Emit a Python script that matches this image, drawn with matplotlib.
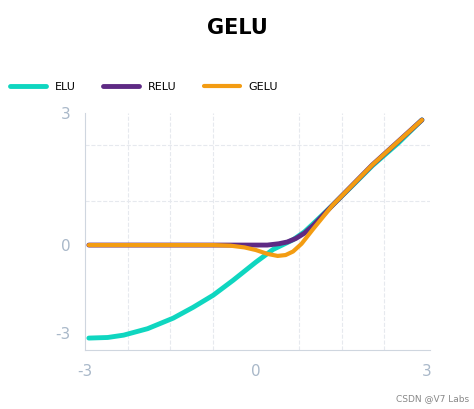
import numpy as np
import matplotlib.pyplot as plt

plt.rcParams['axes.unicode_minus'] = False

# values
elu_x = [-2.93, -2.6, -2.32, -1.9, -1.45, -1.1, -0.75, -0.4, 0.0, 0.3, 0.65, 0.85, 1.0, 1.34, 1.7, 2.04, 2.5, 2.91]
elu_y = [-3.17, -3.15, -3.07, -2.85, -2.49, -2.12, -1.71, -1.2, -0.58, -0.15, 0.12, 0.3, 0.48, 0.9, 1.36, 1.8, 2.32, 2.84]
relu_x = [-2.93, -0.4, 0.2, 0.4, 0.55, 0.7, 0.85, 1.0, 1.34, 2.04, 2.91]
relu_y = [0, 0, 0.0, 0.03, 0.07, 0.15, 0.27, 0.44, 0.9, 1.82, 2.84]
gelu_x = [-2.93, -0.75, -0.45, -0.2, 0.0, 0.2, 0.38, 0.52, 0.65, 0.8, 1.0, 1.34, 2.04, 2.91]
gelu_y = [0, 0, -0.02, -0.08, -0.17, -0.3, -0.37, -0.34, -0.22, 0.03, 0.36, 0.9, 1.82, 2.84]

POS, NEG = 44.0, 29.3

def fwd(y):
    y = np.asarray(y, dtype=float)
    return np.where(y > 0, y * POS, y * NEG)

def inv(v):
    v = np.asarray(v, dtype=float)
    return np.where(v > 0, v / POS, v / NEG)

fig = plt.figure(figsize=(4.74, 4.09), dpi=100)
ax = fig.add_axes([0.179, 0.144, 0.728, 0.58])
ax.set_yscale('function', functions=(fwd, inv))

ax.plot(elu_x, elu_y, color='#0fd6c0', lw=3.5, label='ELU', solid_capstyle='round', solid_joinstyle='round', zorder=3)
ax.plot(relu_x, relu_y, color='#5e2a84', lw=3.5, label='RELU', solid_capstyle='round', solid_joinstyle='round', zorder=4)
ax.plot(gelu_x, gelu_y, color='#f39c12', lw=3.0, label='GELU', solid_capstyle='round', solid_joinstyle='round', zorder=5)

ax.set_xlim(-3, 3.05)
ax.set_ylim(-3.58, 3.0)
ax.set_xticks([-3, 0, 3])
ax.set_yticks([-3, 0, 3])
for gx in [-2.25, -1.5, -0.75, 0.75, 1.5, 2.25]:
    ax.axvline(gx, color='#e6e9ee', ls='--', lw=0.8, zorder=0)
for gy in [2.27, 1.0]:
    ax.axhline(gy, color='#e6e9ee', ls='--', lw=0.8, zorder=0)

for s in ['top', 'right']:
    ax.spines[s].set_visible(False)
for s in ['left', 'bottom']:
    ax.spines[s].set_color('#cfd6df')
ax.tick_params(length=0, labelsize=11, colors='#a9b8c9', pad=10)

fig.suptitle('GELU', x=0.5, y=0.955, fontsize=15, fontweight='bold')
fig.legend(loc='upper left', bbox_to_anchor=(0.0, 0.825), ncol=3, frameon=False,
           fontsize=8, handlelength=3.2, columnspacing=2.5)
fig.text(0.99, 0.02, 'CSDN @V7 Labs', ha='right', fontsize=6.5, color='#888888')

fig.savefig('out.png', dpi=100)
